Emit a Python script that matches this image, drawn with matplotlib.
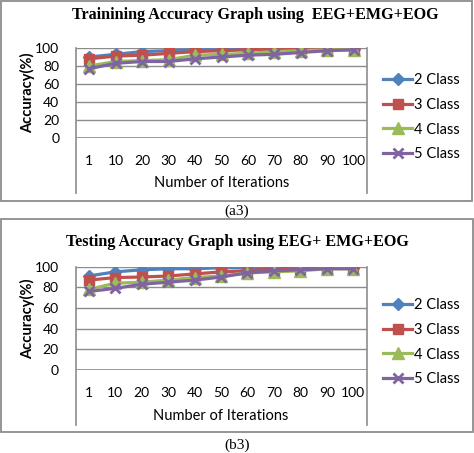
import matplotlib
matplotlib.use("Agg")
import matplotlib.pyplot as plt
from matplotlib.lines import Line2D
from matplotlib.patches import Rectangle
import numpy as np

categories = ["1", "10", "20", "30", "40", "50", "60", "70", "80", "90", "100"]
series_names = ["2 Class", "3 Class", "4 Class", "5 Class"]

train_2 = [90, 93, 96, 97, 98, 98, 99, 99, 99, 99, 99]
train_3 = [88, 91, 92, 94, 96, 97, 98, 99, 99, 99, 99]
train_4 = [80, 85, 86, 87, 92, 93, 94, 96, 97, 98, 98]
train_5 = [77, 83, 85, 85, 88, 90, 92, 93, 95, 97, 98]

test_2 = [91, 95, 97, 98, 98, 99, 99, 99, 99, 99, 99]
test_3 = [87, 89.5, 90, 91, 93, 95, 96, 98, 99, 99, 99]
test_4 = [78, 84, 85, 87, 89.5, 91, 94, 95, 96, 98, 98]
test_5 = [76, 79, 83, 85, 87, 90, 94, 96, 97, 98, 98]

yticks = [0, 20, 40, 60, 80, 100]

colors = ["#4F81BD", "#C0504D", "#9BBB59", "#8064A2"]
markers = ["D", "s", "^", "x"]
msizes = [6, 7.5, 8, 7]

W, H = 474, 453
fig = plt.figure(figsize=(W / 100, H / 100), dpi=100)

def fx(px):
    return px / W

def fy(py):
    return 1 - py / H

sans = ["Lato", "DejaVu Sans"]
serif = ["Liberation Serif", "DejaVu Serif"]

def panel(top, bottom, left, right, data, title, title_xy, ext_bottom,
          xlabel_y, leg_top, box, caption_y, caption):
    ax = fig.add_axes([fx(left), fy(bottom), fx(right - left), (bottom - top) / H])
    x = np.arange(len(categories)) + 0.5
    handles = []
    for vals, c, m, ms, name in zip(data, colors, markers, msizes, series_names):
        mew = 2 if m == "x" else 1
        h, = ax.plot(x, vals, color=c, lw=2.3, marker=m, markersize=ms,
                     markeredgewidth=mew, markeredgecolor=c, markerfacecolor=c,
                     label=name, zorder=3)
        handles.append(h)
    ax.set_xlim(0, len(categories))
    ax.set_ylim(0, 100)
    ax.set_yticks(yticks)
    ax.set_yticklabels([str(v) for v in yticks], fontfamily=sans, fontsize=10)
    ax.set_xticks(x)
    ax.set_xticklabels(categories, fontfamily=sans, fontsize=10)
    ax.tick_params(axis="both", length=0)
    ax.tick_params(axis="y", pad=12)
    ax.tick_params(axis="x", pad=12)
    ax.grid(axis="y", color="#8c8c8c", lw=1)
    for s in ["top", "right", "left", "bottom"]:
        ax.spines[s].set_visible(False)
    ax.set_axisbelow(True)
    ax.axhline(0, color="#8c8c8c", lw=1.2, zorder=2)
    # plot area border vertical lines
    for px in (left, right):
        fig.add_artist(Line2D([fx(px), fx(px)], [fy(top), fy(ext_bottom)],
                              color="#8c8c8c", lw=1.2))
    ax.set_xlabel("Number of Iterations", fontfamily=sans, fontsize=10.5, va="center")
    ax.xaxis.set_label_coords(0.5, (bottom - xlabel_y) / (bottom - top))
    ax.set_ylabel("Accuracy(%)", fontfamily=sans, fontsize=10.5, fontweight="bold",
                  va="center")
    ax.yaxis.set_label_coords((28 - left) / (right - left), 0.5)
    fig.text(fx(title_xy[0]), fy(title_xy[1]), title, fontfamily=serif,
             fontweight="bold", fontsize=11.6, ha="center", va="center")
    leg = ax.legend(handles=handles, loc="upper left",
                    bbox_to_anchor=(fx(383), fy(leg_top)),
                    bbox_transform=fig.transFigure, frameon=False,
                    prop={"family": sans, "size": 10.5}, handlelength=2.0,
                    handletextpad=0.15, labelspacing=0.74, borderaxespad=0,
                    borderpad=0)
    bx0, by0, bx1, by1 = box
    fig.add_artist(Rectangle((fx(bx0), fy(by1)), fx(bx1 - bx0), (by1 - by0) / H,
                             fill=False, edgecolor="#8c8c8c", lw=1.3))
    fig.text(fx(237), fy(caption_y), caption, fontfamily=serif, fontsize=11,
             ha="center", va="center")
    return ax

panel(48, 138, 76, 367, [train_2, train_3, train_4, train_5],
      "Trainining Accuracy Graph using  EEG+EMG+EOG", (255.5, 15), 193, 183,
      73, (1, 0.5, 472, 200.7), 211, "(a3)")
panel(266.7, 370, 75.5, 366.5, [test_2, test_3, test_4, test_5],
      "Testing Accuracy Graph using EEG+ EMG+EOG", (237, 242), 425, 416,
      298, (1, 219.3, 472.7, 432), 445, "(b3)")

fig.savefig("out.png", dpi=100)
